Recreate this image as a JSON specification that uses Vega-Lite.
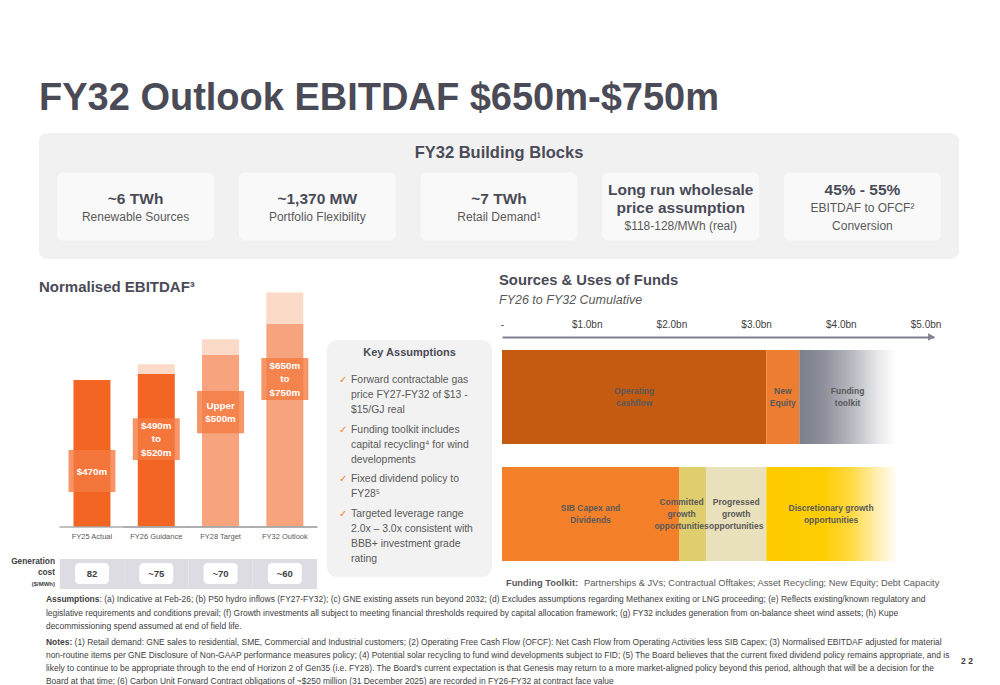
{
  "$schema": "https://vega.github.io/schema/vega-lite/v6.json",
  "background": "white",
  "padding": {"left": 11, "top": 80, "right": 5, "bottom": 0},
  "config": {"font": "Liberation Sans", "view": {"stroke": null}},
  "title": {"text": "FY32 Outlook EBITDAF $650m-$750m", "fontSize": 38, "fontWeight": "bold", "color": "#4a4b57", "anchor": "start", "frame": "group", "baseline": "bottom", "offset": -23},
  "bounds": "flush",
  "spacing": 4,
  "datasets": {
    "blocks": [
      {"block": "Renewable Sources", "kind": "head", "text": "~6 TWh"},
      {"block": "Renewable Sources", "kind": "detail", "text": "Renewable Sources"},
      {"block": "Portfolio Flexibility", "kind": "head", "text": "~1,370 MW"},
      {"block": "Portfolio Flexibility", "kind": "detail", "text": "Portfolio Flexibility"},
      {"block": "Retail Demand", "kind": "head", "text": "~7 TWh"},
      {"block": "Retail Demand", "kind": "detail", "text": "Retail Demand¹"},
      {"block": "Wholesale Price", "kind": "head", "text": "Long run wholesale"},
      {"block": "Wholesale Price", "kind": "head", "text": "price assumption"},
      {"block": "Wholesale Price", "kind": "detail", "text": "$118-128/MWh (real)"},
      {"block": "OFCF Conversion", "kind": "head", "text": "45% - 55%"},
      {"block": "OFCF Conversion", "kind": "detail", "text": "EBITDAF to OFCF²"},
      {"block": "OFCF Conversion", "kind": "detail", "text": "Conversion"}
    ],
    "ebitdaf": [
      {"period": "FY25 Actual", "part": "Actual", "low": 0, "high": 470},
      {"period": "FY26 Guidance", "part": "Actual", "low": 0, "high": 490},
      {"period": "FY26 Guidance", "part": "Range", "low": 490, "high": 520},
      {"period": "FY28 Target", "part": "Outlook", "low": 0, "high": 550},
      {"period": "FY28 Target", "part": "Range", "low": 550, "high": 600},
      {"period": "FY32 Outlook", "part": "Outlook", "low": 0, "high": 650},
      {"period": "FY32 Outlook", "part": "Range", "low": 650, "high": 750}
    ],
    "ebitdafLabels": [
      {"period": "FY25 Actual", "label": ["$470m"]},
      {"period": "FY26 Guidance", "label": ["$490m", "to", "$520m"]},
      {"period": "FY28 Target", "label": ["Upper", "$500m"]},
      {"period": "FY32 Outlook", "label": ["$650m", "to", "$750m"]}
    ],
    "gen": [
      {"period": "FY25 Actual", "cost": "82"},
      {"period": "FY26 Guidance", "cost": "~75"},
      {"period": "FY28 Target", "cost": "~70"},
      {"period": "FY32 Outlook", "cost": "~60"}
    ],
    "assumptions": [
      {"item": 1, "text": "Forward contractable gas"},
      {"item": 1, "text": "price FY27-FY32 of $13 -"},
      {"item": 1, "text": "$15/GJ real"},
      {"item": 2, "text": "Funding toolkit includes"},
      {"item": 2, "text": "capital recycling⁴ for wind"},
      {"item": 2, "text": "developments"},
      {"item": 3, "text": "Fixed dividend policy to"},
      {"item": 3, "text": "FY28⁵"},
      {"item": 4, "text": "Targeted leverage range"},
      {"item": 4, "text": "2.0x – 3.0x consistent with"},
      {"item": 4, "text": "BBB+ investment grade"},
      {"item": 4, "text": "rating"}
    ],
    "funds": [
      {"row": "Sources", "item": "Operating cashflow", "start": 0, "end": 3.12, "label": ["Operating", "cashflow"]},
      {"row": "Sources", "item": "New Equity", "start": 3.12, "end": 3.51, "label": ["New", "Equity"]},
      {"row": "Sources", "item": "Funding toolkit", "start": 3.51, "end": 4.65, "label": ["Funding", "toolkit"]},
      {"row": "Uses", "item": "SIB Capex and Dividends", "start": 0, "end": 2.09, "label": ["SIB Capex and", "Dividends"]},
      {"row": "Uses", "item": "Committed growth opportunities", "start": 2.09, "end": 2.41, "label": ["Committed", "growth", "opportunities"]},
      {"row": "Uses", "item": "Progressed growth opportunities", "start": 2.41, "end": 3.12, "label": ["Progressed", "growth", "opportunities"]},
      {"row": "Uses", "item": "Discretionary growth opportunities", "start": 3.12, "end": 4.65, "label": ["Discretionary growth", "opportunities"]}
    ],
    "notes": [
      {"block": "Assumptions", "lead": "Assumptions", "text": ": (a) Indicative at Feb-26; (b) P50 hydro inflows (FY27-FY32); (c) GNE existing assets run beyond 2032; (d) Excludes assumptions regarding Methanex exiting or LNG proceeding; (e) Reflects existing/known regulatory and"},
      {"block": "Assumptions", "text": "legislative requirements and conditions prevail; (f) Growth investments all subject to meeting financial thresholds required by capital allocation framework; (g) FY32 includes generation from on-balance sheet wind assets; (h) Kupe"},
      {"block": "Assumptions", "text": "decommissioning spend assumed at end of field life."},
      {"block": "Notes", "lead": "Notes:", "text": "(1) Retail demand: GNE sales to residential, SME, Commercial and Industrial customers; (2) Operating Free Cash Flow (OFCF): Net Cash Flow from Operating Activities less SIB Capex; (3) Normalised EBITDAF adjusted for material"},
      {"block": "Notes", "text": "non-routine items per GNE Disclosure of Non-GAAP performance measures policy; (4) Potential solar recycling to fund wind developments subject to FID; (5) The Board believes that the current fixed dividend policy remains appropriate, and is"},
      {"block": "Notes", "text": "likely to continue to be appropriate through to the end of Horizon 2 of Gen35 (i.e. FY28). The Board’s current expectation is that Genesis may return to a more market-aligned policy beyond this period, although that will be a decision for the"},
      {"block": "Notes", "text": "Board at that time; (6) Carbon Unit Forward Contract obligations of ~$250 million (31 December 2025) are recorded in FY26-FY32 at contract face value"}
    ]
  },
  "vconcat": [
    {
      "width": 920, "height": 126,
      "view": {"fill": "#f1f1f1", "cornerRadius": 8, "stroke": null},
      "data": {"name": "blocks"},
      "encoding": {"x": {"field": "block", "type": "nominal", "scale": {"domain": ["Renewable Sources", "Portfolio Flexibility", "Retail Demand", "Wholesale Price", "OFCF Conversion"], "paddingInner": 0.137, "paddingOuter": 0.1}, "axis": null}},
      "layer": [
        {"transform": [{"aggregate": [{"op": "count", "as": "lines"}], "groupby": ["block"]}],
         "mark": {"type": "bar", "color": "#f9f9f9", "cornerRadius": 6},
         "encoding": {"y": {"datum": -1.95, "type": "quantitative", "scale": {"domain": [-4.139, 2.861], "reverse": true, "nice": false, "zero": false}, "axis": null}, "y2": {"datum": 1.83}}},
        {"transform": [
           {"window": [{"op": "row_number", "as": "idx"}], "groupby": ["block"]},
           {"joinaggregate": [{"op": "count", "as": "n"}], "groupby": ["block"]},
           {"calculate": "datum.idx - (datum.n + 1) / 2", "as": "pos"}],
         "layer": [
           {"transform": [{"filter": "datum.kind === 'head'"}], "mark": {"type": "text", "fontSize": 15.5, "fontWeight": "bold", "color": "#4a4b57"}, "encoding": {"y": {"field": "pos", "type": "quantitative"}, "text": {"field": "text"}}},
           {"transform": [{"filter": "datum.kind === 'detail'"}], "mark": {"type": "text", "fontSize": 12, "color": "#595959"}, "encoding": {"y": {"field": "pos", "type": "quantitative"}, "text": {"field": "text"}}}
         ]},
        {"data": {"values": [{"t": "FY32 Building Blocks"}]}, "mark": {"type": "text", "fontSize": 16.5, "fontWeight": "bold", "color": "#4a4b57"}, "encoding": {"x": {"datum": "Retail Demand"}, "y": {"datum": -3.03}, "text": {"field": "t"}}}
      ]
    },
    {
      "bounds": "flush",
      "spacing": 10,
      "resolve": {"scale": {"color": "independent"}},
      "hconcat": [
        {
          "width": 278, "height": 326,
          "encoding": {"x": {"field": "period", "type": "nominal", "scale": {"domain": ["FY25 Actual", "FY26 Guidance", "FY28 Target", "FY32 Outlook"], "paddingInner": 0, "paddingOuter": 0.162, "align": 1}, "axis": null}},
          "resolve": {"scale": {"y": "independent"}},
          "layer": [
            {"layer": [
              {"data": {"name": "ebitdaf"}, "layer": [
                {"mark": {"type": "bar", "width": 37}, "encoding": {"y": {"field": "low", "type": "quantitative", "scale": {"domain": [-198.2, 844], "nice": false, "zero": false}, "axis": null}, "y2": {"field": "high"}, "color": {"field": "part", "type": "nominal", "scale": {"domain": ["Actual", "Outlook", "Range"], "range": ["#f26522", "#f7a47e", "#fcdac8"]}, "legend": null}}},
                {"mark": {"type": "tick", "orient": "horizontal", "color": "#a6a6a6", "thickness": 2, "size": 65}, "encoding": {"y": {"datum": 0}}}
              ]},
              {"data": {"name": "ebitdafLabels"}, "layer": [
                {"transform": [{"filter": "datum.period === 'FY25 Actual'"}], "layer": [
                  {"mark": {"type": "bar", "width": 47, "color": "#f47a42", "opacity": 0.8}, "encoding": {"y": {"datum": 112}, "y2": {"datum": 246}}},
                  {"mark": {"type": "text", "color": "white", "fontSize": 9.8, "fontWeight": "bold", "lineHeight": 13.5}, "encoding": {"y": {"datum": 176}, "text": {"field": "label"}}}
                ]},
                {"transform": [{"filter": "datum.period === 'FY26 Guidance'"}], "layer": [
                  {"mark": {"type": "bar", "width": 47, "color": "#f47a42", "opacity": 0.8}, "encoding": {"y": {"datum": 214}, "y2": {"datum": 348}}},
                  {"mark": {"type": "text", "color": "white", "fontSize": 9.8, "fontWeight": "bold", "lineHeight": 13.5}, "encoding": {"y": {"datum": 323}, "text": {"field": "label"}}}
                ]},
                {"transform": [{"filter": "datum.period === 'FY28 Target'"}], "layer": [
                  {"mark": {"type": "bar", "width": 47, "color": "#f47a42", "opacity": 0.8}, "encoding": {"y": {"datum": 300}, "y2": {"datum": 435}}},
                  {"mark": {"type": "text", "color": "white", "fontSize": 9.8, "fontWeight": "bold", "lineHeight": 13.5}, "encoding": {"y": {"datum": 387}, "text": {"field": "label"}}}
                ]},
                {"transform": [{"filter": "datum.period === 'FY32 Outlook'"}], "layer": [
                  {"mark": {"type": "bar", "width": 47, "color": "#f47a42", "opacity": 0.8}, "encoding": {"y": {"datum": 406}, "y2": {"datum": 540}}},
                  {"mark": {"type": "text", "color": "white", "fontSize": 9.8, "fontWeight": "bold", "lineHeight": 13.5}, "encoding": {"y": {"datum": 515}, "text": {"field": "label"}}}
                ]}
              ]}
            ]},
            {"layer": [
              {"data": {"values": [{"t": "Normalised EBITDAF³"}]}, "mark": {"type": "text", "align": "left", "fontSize": 15, "fontWeight": "bold", "color": "#4a4b57", "dx": -53}, "encoding": {"x": {"datum": "FY25 Actual"}, "y": {"datum": 2.4, "type": "quantitative", "scale": {"domain": [0, 32.6], "reverse": true, "nice": false, "zero": false}, "axis": null}, "text": {"field": "t"}}},
              {"data": {"name": "gen"}, "layer": [
                {"mark": {"type": "text", "fontSize": 7.5, "color": "#595959"}, "encoding": {"y": {"datum": 27.4}, "text": {"field": "period"}}},
                {"mark": {"type": "bar", "color": "#dcdce2"}, "encoding": {"y": {"datum": 29.6}, "y2": {"datum": 32.6}}},
                {"mark": {"type": "bar", "color": "white", "width": 34, "cornerRadius": 4}, "encoding": {"y": {"datum": 30.0}, "y2": {"datum": 32.1}}},
                {"mark": {"type": "text", "fontSize": 9.5, "fontWeight": "bold", "color": "#404040"}, "encoding": {"y": {"datum": 31.05}, "text": {"field": "cost"}}}
              ]},
              {"data": {"values": [{"t": ["Generation", "cost"], "u": "($/MWh)"}]}, "layer": [
                {"mark": {"type": "text", "align": "right", "fontSize": 8.3, "fontWeight": "bold", "color": "#404040", "dx": -37, "lineHeight": 11}, "encoding": {"x": {"datum": "FY25 Actual"}, "y": {"datum": 29.9}, "text": {"field": "t"}}},
                {"mark": {"type": "text", "align": "right", "fontSize": 6, "fontWeight": "bold", "color": "#404040", "dx": -37}, "encoding": {"x": {"datum": "FY25 Actual"}, "y": {"datum": 32.1}, "text": {"field": "u"}}}
              ]}
            ]},
            {"data": {"name": "notes"},
             "transform": [
               {"window": [{"op": "row_number", "as": "rn"}]},
               {"calculate": "datum.rn - 1 + (datum.block === 'Notes' ? 0.2 : 0)", "as": "pos"}],
             "encoding": {"x": {"datum": "FY25 Actual"}, "y": {"field": "pos", "type": "quantitative", "scale": {"domain": [-25.492, -0.795], "reverse": true, "nice": false, "zero": false}, "axis": null}},
             "layer": [
               {"transform": [{"filter": "!datum.lead"}], "mark": {"type": "text", "align": "left", "fontSize": 8.45, "color": "#404040", "dx": -46}, "encoding": {"text": {"field": "text"}}},
               {"transform": [{"filter": "datum.lead === 'Assumptions'"}], "layer": [
                 {"mark": {"type": "text", "align": "left", "fontSize": 8.45, "fontWeight": "bold", "color": "#404040", "dx": -46}, "encoding": {"text": {"field": "lead"}}},
                 {"mark": {"type": "text", "align": "left", "fontSize": 8.45, "color": "#404040", "dx": 7.5}, "encoding": {"text": {"field": "text"}}}
               ]},
               {"transform": [{"filter": "datum.lead === 'Notes:'"}], "layer": [
                 {"mark": {"type": "text", "align": "left", "fontSize": 8.45, "fontWeight": "bold", "color": "#404040", "dx": -46}, "encoding": {"text": {"field": "lead"}}},
                 {"mark": {"type": "text", "align": "left", "fontSize": 8.45, "color": "#404040", "dx": -17.4}, "encoding": {"text": {"field": "text"}}}
               ]}
             ]}
          ]
        },
        {
          "width": 165, "height": 326,
          "layer": [
            {"data": {"values": [{}]}, "mark": {"type": "rect", "color": "#f2f2f2", "cornerRadius": 10}, "encoding": {"x": {"datum": 0, "type": "quantitative", "scale": {"domain": [0, 1], "nice": false}, "axis": null}, "x2": {"datum": 1}, "y": {"datum": -2.667, "type": "quantitative", "scale": {"domain": [-7.8, 13.933], "reverse": true, "nice": false, "zero": false}, "axis": null}, "y2": {"datum": 13.133}}},
            {"data": {"values": [{"t": "Key Assumptions"}]}, "mark": {"type": "text", "fontSize": 11, "fontWeight": "bold", "color": "#4a4b57"}, "encoding": {"x": {"datum": 0.5}, "y": {"datum": -1.8}, "text": {"field": "t"}}},
            {"data": {"name": "assumptions"},
             "transform": [
               {"window": [{"op": "row_number", "as": "rn"}]},
               {"window": [{"op": "row_number", "as": "ln"}], "groupby": ["item"]},
               {"calculate": "datum.rn - 1 + (datum.item - 1) * 0.3", "as": "pos"}],
             "layer": [
               {"mark": {"type": "text", "align": "left", "fontSize": 10.4, "color": "#595959", "dx": 24}, "encoding": {"x": {"datum": 0}, "y": {"field": "pos", "type": "quantitative"}, "text": {"field": "text"}}},
               {"transform": [{"filter": "datum.ln === 1"}], "mark": {"type": "text", "align": "left", "fontSize": 10, "color": "#f58025", "dx": 12, "text": "✓"}, "encoding": {"x": {"datum": 0}, "y": {"field": "pos", "type": "quantitative"}}}
             ]}
          ]
        },
        {
          "width": 432, "height": 326,
          "resolve": {"scale": {"y": "independent"}},
          "layer": [
            {"data": {"name": "funds"},
             "encoding": {"y": {"field": "row", "type": "nominal", "scale": {"domain": ["Sources", "Uses"], "paddingInner": 0.1966, "paddingOuter": 0.4915, "align": 0.7565}, "axis": null}},
             "layer": [
               {"transform": [{"filter": "datum.item !== 'Funding toolkit' && datum.item !== 'Discretionary growth opportunities'"}],
                "mark": {"type": "bar"},
                "encoding": {
                  "x": {"field": "start", "type": "quantitative", "title": null, "scale": {"domain": [0, 5.1], "nice": false, "zero": true},
                        "axis": {"orient": "top", "offset": -74, "values": [0, 1, 2, 3, 4, 5], "labelExpr": "datum.value === 0 ? '-' : '$' + format(datum.value, '.1f') + 'bn'", "ticks": false, "grid": false, "domain": true, "domainColor": "#7f8290", "domainWidth": 2, "labelFontSize": 10, "labelColor": "#404040", "labelPadding": 8, "labelFlush": false, "title": null}},
                  "x2": {"field": "end"},
                  "color": {"field": "item", "type": "nominal", "scale": {"domain": ["Operating cashflow", "New Equity", "SIB Capex and Dividends", "Committed growth opportunities", "Progressed growth opportunities"], "range": ["#c55a11", "#ed7d31", "#f4812a", "#e0cd6d", "#e9e1bb"]}, "legend": null}}},
               {"transform": [{"filter": "datum.item === 'Funding toolkit'"}],
                "mark": {"type": "bar", "color": {"gradient": "linear", "x1": 0, "y1": 0, "x2": 1, "y2": 0, "stops": [{"offset": 0, "color": "#7b7e8b"}, {"offset": 0.25, "color": "#8d909b"}, {"offset": 0.55, "color": "#b8bac1"}, {"offset": 0.8, "color": "#e6e6e9"}, {"offset": 1, "color": "#ffffff"}]}},
                "encoding": {"x": {"field": "start", "type": "quantitative", "title": null}, "x2": {"field": "end"}}},
               {"transform": [{"filter": "datum.item === 'Discretionary growth opportunities'"}],
                "mark": {"type": "bar", "color": {"gradient": "linear", "x1": 0, "y1": 0, "x2": 1, "y2": 0, "stops": [{"offset": 0, "color": "#ffcc00"}, {"offset": 0.45, "color": "#ffcd05"}, {"offset": 0.65, "color": "#ffd940"}, {"offset": 0.85, "color": "#ffeeb0"}, {"offset": 1, "color": "#fffdf5"}]}},
                "encoding": {"x": {"field": "start", "type": "quantitative", "title": null}, "x2": {"field": "end"}}},
               {"transform": [{"filter": "datum.label.length === 2"}, {"calculate": "(datum.start + datum.end) / 2", "as": "mid"}],
                "mark": {"type": "text", "fontSize": 8.5, "fontWeight": "bold", "color": "#595959", "lineHeight": 12, "dy": -6},
                "encoding": {"x": {"field": "mid", "type": "quantitative", "title": null}, "text": {"field": "label"}}},
               {"transform": [{"filter": "datum.item === 'Progressed growth opportunities'"}, {"calculate": "(datum.start + datum.end) / 2", "as": "mid"}],
                "mark": {"type": "text", "fontSize": 8.5, "fontWeight": "bold", "color": "#595959", "lineHeight": 12, "dy": -12},
                "encoding": {"x": {"field": "mid", "type": "quantitative", "title": null}, "text": {"field": "label"}}},
               {"transform": [{"filter": "datum.item === 'Committed growth opportunities'"}, {"calculate": "(datum.start + datum.end) / 2", "as": "mid"}],
                "mark": {"type": "text", "fontSize": 8.5, "fontWeight": "bold", "color": "#595959", "lineHeight": 12, "dx": -11, "dy": -12},
                "encoding": {"x": {"field": "mid", "type": "quantitative", "title": null}, "text": {"field": "label"}}}
             ]},
            {"data": {"values": [{"title": "Sources & Uses of Funds", "sub": "FY26 to FY32 Cumulative", "ftLabel": "Funding Toolkit:", "ftText": "Partnerships & JVs; Contractual Offtakes; Asset Recycling; New Equity; Debt Capacity", "page": "2 2"}]},
             "layer": [
               {"mark": {"type": "text", "align": "left", "fontSize": 14.8, "fontWeight": "bold", "color": "#4a4b57", "dx": -3}, "encoding": {"x": {"datum": 0}, "y": {"datum": 1.8, "type": "quantitative", "scale": {"domain": [0, 32.6], "reverse": true, "nice": false, "zero": false}, "axis": null}, "text": {"field": "title"}}},
               {"mark": {"type": "text", "align": "left", "fontSize": 12.5, "fontStyle": "italic", "color": "#595959", "dx": -3}, "encoding": {"x": {"datum": 0}, "y": {"datum": 3.7}, "text": {"field": "sub"}}},
               {"mark": {"type": "point", "shape": "triangle-right", "filled": true, "color": "#7f8290", "size": 60, "opacity": 1}, "encoding": {"x": {"datum": 5.07}, "y": {"datum": 7.4}}},
               {"mark": {"type": "text", "align": "left", "fontSize": 9.3, "fontWeight": "bold", "color": "#595959", "dx": 4}, "encoding": {"x": {"datum": 0}, "y": {"datum": 32.0}, "text": {"field": "ftLabel"}}},
               {"mark": {"type": "text", "align": "left", "fontSize": 9.3, "color": "#595959", "dx": 82}, "encoding": {"x": {"datum": 0}, "y": {"datum": 32.0}, "text": {"field": "ftText"}}},
               {"mark": {"type": "text", "fontSize": 8.5, "fontWeight": "bold", "color": "#404040", "dx": 33}, "encoding": {"x": {"datum": 5.1}, "y": {"datum": 39.8}, "text": {"field": "page"}}}
             ]}
          ]
        }
      ]
    }
  ]
}
